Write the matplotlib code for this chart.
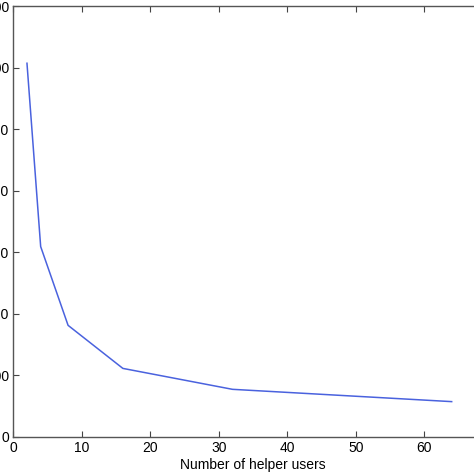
import matplotlib
matplotlib.use('Agg')
import matplotlib.pyplot as plt

# helper users vs. value (y labels are cropped in the reference)
helpers = [2, 4, 8, 16, 32, 64]
valores = [607, 309, 181, 111, 77, 57]
yticks = [0, 100, 200, 300, 400, 500, 600, 700]
xticks = [0, 10, 20, 30, 40, 50, 60]

plt.rcParams['font.family'] = ['Liberation Sans', 'DejaVu Sans']

fig = plt.figure(figsize=(4.74, 4.74), dpi=100)
ax = fig.add_axes([0.028, 0.0787, 1.0116, 0.9086])

ax.plot(helpers, valores, color='#4a62de', linewidth=1.1)

ax.set_xlim(0, 70)
ax.set_ylim(0, 700)
ax.set_xticks(xticks)
ax.set_yticks(yticks)
ax.tick_params(direction='in', length=4, width=0.8, color='#444444',
               labelsize=10, top=True, right=True, pad=3)
for s in ax.spines.values():
    s.set_color('#555555')
    s.set_linewidth(1.0)

ax.set_xlabel('Number of helper users', fontsize=10, labelpad=2)

plt.savefig('out.png', dpi=100)
plt.close()
